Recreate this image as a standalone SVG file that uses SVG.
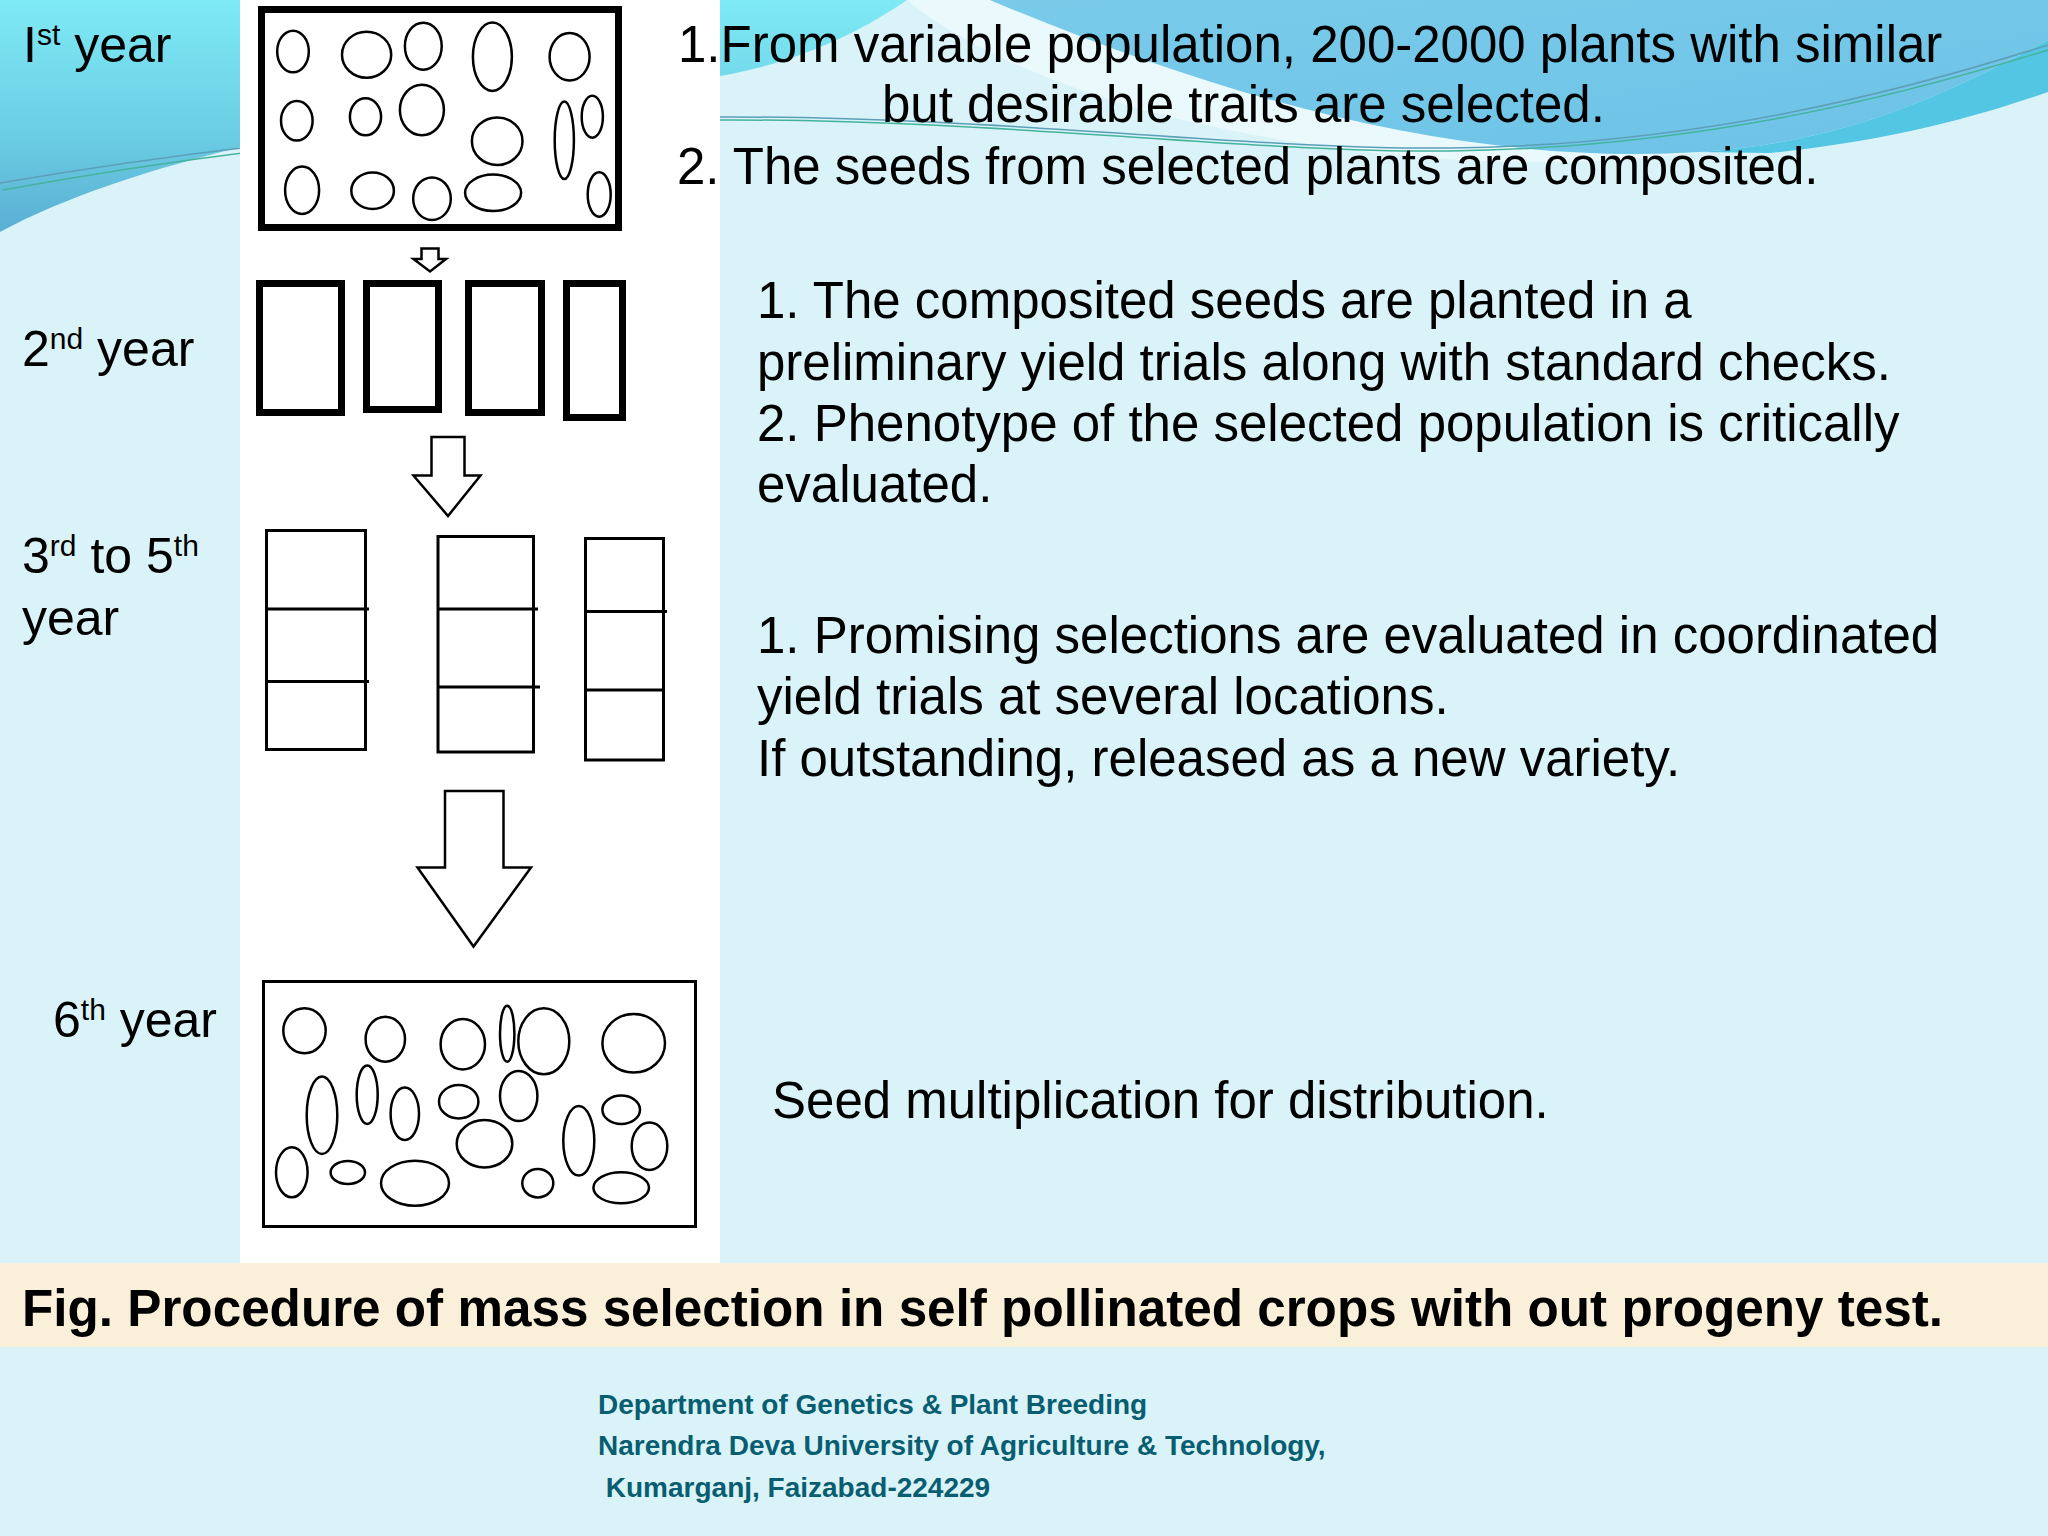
<svg xmlns="http://www.w3.org/2000/svg" width="2048" height="1536" viewBox="0 0 2048 1536">
<defs>
<linearGradient id="gCyan" x1="0" y1="0" x2="0" y2="1">
<stop offset="0" stop-color="#7EEAF5"/>
<stop offset="0.55" stop-color="#6CCFE5"/>
<stop offset="1" stop-color="#5AAFD3"/>
</linearGradient>
<linearGradient id="gBlue" x1="0" y1="0" x2="1" y2="1">
<stop offset="0" stop-color="#7ACBEA"/>
<stop offset="1" stop-color="#6CC2E6"/>
</linearGradient>
<style>
.t{font-family:"Liberation Sans",Arial,sans-serif;font-size:51px;fill:#000}
.lab{font-family:"Liberation Sans",Arial,sans-serif;font-size:50px;fill:#000}
.sup{font-size:30px}
.cap{font-family:"Liberation Sans",Arial,sans-serif;font-size:51px;font-weight:bold;fill:#000}
.foot{font-family:"Liberation Sans",Arial,sans-serif;font-size:28px;font-weight:bold;fill:#085E70}
.thick{fill:#fff;stroke:#000;stroke-width:7}
.thin{fill:#fff;stroke:#000;stroke-width:3}
.seed{fill:none;stroke:#000;stroke-width:2.5}
.div{stroke:#000;stroke-width:3}
.arrow{fill:#fff;stroke:#000;stroke-width:2.5;stroke-linejoin:miter}
</style>
</defs>

<g id="background">
<rect x="0" y="0" width="2048" height="1536" fill="#D9F3F9"/>
<path d="M0,232 C150,150 450,95 720,76 C800,62 860,32 907,0 H0 Z" fill="url(#gCyan)"/>
<path d="M907,0 H990 C1250,110 1480,165 1700,152 C1500,178 1300,150 1150,112 C1050,84 960,44 907,0 Z" fill="#EAF9FC"/>
<path d="M990,0 H2048 V40 C1950,92 1850,142 1700,152 C1480,165 1250,110 990,0 Z" fill="url(#gBlue)"/>
<path d="M2048,40 C1950,92 1850,142 1700,152 L1770,153 C1900,140 1990,112 2048,92 Z" fill="#52C6E2"/>
<path d="M0,183 C250,140 500,118 720,117 C1000,116 1250,150 1450,148 C1700,145 1900,92 2048,45" fill="none" stroke="#5C9FB8" stroke-width="1.5"/>
<path d="M3,190 C250,145 500,121 720,120 C1000,119 1250,153 1450,151 C1700,148 1900,96 2048,50" fill="none" stroke="#45B39C" stroke-width="1.5"/>
<rect x="240" y="0" width="480" height="1264" fill="#FFFFFF"/>
<rect x="0" y="1263" width="2048" height="84" fill="#FAF0DA"/>
</g>

<g id="labels">
<text id="label-year1" class="lab" x="23" y="62">I<tspan class="sup" dy="-17">st</tspan><tspan dy="17"> year</tspan></text>
<text id="label-year2" class="lab" x="22" y="366">2<tspan class="sup" dy="-17">nd</tspan><tspan dy="17"> year</tspan></text>
<text id="label-year3" class="lab" x="22" y="573">3<tspan class="sup" dy="-17">rd</tspan><tspan dy="17"> to 5</tspan><tspan class="sup" dy="-17">th</tspan></text>
<text id="label-year3b" class="lab" x="22" y="635">year</text>
<text id="label-year6" class="lab" x="53" y="1037">6<tspan class="sup" dy="-17">th</tspan><tspan dy="17"> year</tspan></text>
</g>

<g id="node-year1">
<rect class="thick" x="261.5" y="9.5" width="357" height="218"/>
<ellipse class="seed" cx="293" cy="51.5" rx="15.8" ry="20.8"/>
<ellipse class="seed" cx="366.6" cy="54.7" rx="24.6" ry="23"/>
<ellipse class="seed" cx="423.3" cy="46.2" rx="18.4" ry="23.5"/>
<ellipse class="seed" cx="492.4" cy="56.8" rx="19.5" ry="34.2"/>
<ellipse class="seed" cx="569.6" cy="56.7" rx="20" ry="23.7"/>
<ellipse class="seed" cx="296.8" cy="120.8" rx="15.8" ry="19.8"/>
<ellipse class="seed" cx="365.5" cy="116.8" rx="15.6" ry="18.5"/>
<ellipse class="seed" cx="421.9" cy="110" rx="22" ry="25.3"/>
<ellipse class="seed" cx="497.2" cy="141.2" rx="25.3" ry="23.8"/>
<ellipse class="seed" cx="564.3" cy="140.3" rx="9.6" ry="38.7"/>
<ellipse class="seed" cx="592.3" cy="116.7" rx="10.6" ry="21"/>
<ellipse class="seed" cx="302.1" cy="190.3" rx="17" ry="23.7"/>
<ellipse class="seed" cx="372.6" cy="190.7" rx="21.3" ry="18.3"/>
<ellipse class="seed" cx="432" cy="198.7" rx="18.8" ry="21.3"/>
<ellipse class="seed" cx="493.1" cy="192.8" rx="28" ry="18.2"/>
<ellipse class="seed" cx="599.2" cy="194.5" rx="11.5" ry="22.2"/>
</g>

<g id="node-year2">
<rect class="thick" x="259.5" y="283.5" width="82" height="129"/>
<rect class="thick" x="366.5" y="283.5" width="72" height="126"/>
<rect class="thick" x="468.5" y="283.5" width="73" height="129"/>
<rect class="thick" x="566.5" y="283.5" width="56" height="134"/>
</g>

<g id="node-year3to5">
<rect class="thin" x="266.5" y="530.5" width="99" height="219"/>
<line class="div" x1="266" y1="609" x2="369" y2="609"/>
<line class="div" x1="266" y1="681.5" x2="369" y2="681.5"/>
<rect class="thin" x="438" y="536.5" width="95.5" height="215.5"/>
<line class="div" x1="438" y1="609" x2="538" y2="609"/>
<line class="div" x1="438" y1="687" x2="540" y2="687"/>
<rect class="thin" x="585.5" y="538.5" width="78" height="221.5"/>
<line class="div" x1="585" y1="611.5" x2="667" y2="611.5"/>
<line class="div" x1="585" y1="690" x2="665" y2="690"/>
</g>

<g id="node-year6">
<rect class="thin" x="263.5" y="981.5" width="432" height="245" stroke-width="2.5"/>
<ellipse class="seed" cx="304.5" cy="1030.8" rx="21.2" ry="22.5"/>
<ellipse class="seed" cx="385.3" cy="1039.2" rx="19.7" ry="22.5"/>
<ellipse class="seed" cx="462.8" cy="1044.2" rx="22.2" ry="25.2"/>
<ellipse class="seed" cx="507.2" cy="1033.7" rx="7.2" ry="28"/>
<ellipse class="seed" cx="543.8" cy="1041.3" rx="25.5" ry="33"/>
<ellipse class="seed" cx="633.7" cy="1043.3" rx="31.3" ry="29.3"/>
<ellipse class="seed" cx="322" cy="1115.3" rx="15.3" ry="38.7"/>
<ellipse class="seed" cx="367.2" cy="1094.8" rx="10.5" ry="29.2"/>
<ellipse class="seed" cx="404.8" cy="1113.8" rx="14.2" ry="26.2"/>
<ellipse class="seed" cx="458.7" cy="1101.7" rx="19.7" ry="16.7"/>
<ellipse class="seed" cx="518.7" cy="1096" rx="18.7" ry="25"/>
<ellipse class="seed" cx="484.5" cy="1143.7" rx="27.8" ry="23.7"/>
<ellipse class="seed" cx="578.8" cy="1140.8" rx="15.5" ry="34.8"/>
<ellipse class="seed" cx="621.2" cy="1109.8" rx="18.8" ry="14.2"/>
<ellipse class="seed" cx="649.5" cy="1146.3" rx="17.8" ry="23.7"/>
<ellipse class="seed" cx="291.8" cy="1172.3" rx="15.8" ry="25"/>
<ellipse class="seed" cx="347.8" cy="1172.5" rx="17.2" ry="11.5"/>
<ellipse class="seed" cx="415" cy="1183.2" rx="34" ry="22.5"/>
<ellipse class="seed" cx="537.8" cy="1183.2" rx="15.5" ry="14.2"/>
<ellipse class="seed" cx="621.2" cy="1187.8" rx="27.8" ry="15.5"/>
</g>

<g id="connectors">
<path class="arrow" d="M421.5,248.5 H438.5 V259 H446 L430,271.5 L413.5,259 H421.5 Z"/>
<path class="arrow" d="M431.5,437 H464.5 V475.5 H480.5 L448,516 L413.5,475.5 H431.5 Z"/>
<path class="arrow" d="M445,791 H503.5 V867.5 H531 L473.5,946.5 L417.5,867.5 H445 Z"/>
</g>

<g id="text-year1">
<text class="t" x="678" y="62">1.From variable population, 200-2000 plants with similar</text>
<text class="t" x="882" y="122">but desirable traits are selected.</text>
<text class="t" x="677" y="184">2. The seeds from selected plants are composited.</text>
</g>

<g id="text-year2">
<text class="t" x="757" y="318">1. The composited seeds are planted in a</text>
<text class="t" x="757" y="380">preliminary yield trials along with standard checks.</text>
<text class="t" x="757" y="441">2. Phenotype of the selected population is critically</text>
<text class="t" x="757" y="502">evaluated.</text>
</g>

<g id="text-year3to5">
<text class="t" x="757" y="653">1. Promising selections are evaluated in coordinated</text>
<text class="t" x="757" y="714">yield trials at several locations.</text>
<text class="t" x="757" y="776">If outstanding, released as a new variety.</text>
</g>

<g id="text-year6">
<text class="t" x="772" y="1118">Seed multiplication for distribution.</text>
</g>

<g id="caption">
<text class="cap" x="22" y="1326" textLength="1921" lengthAdjust="spacingAndGlyphs">Fig. Procedure of mass selection in self pollinated crops with out progeny test.</text>
</g>

<g id="footer">
<text class="foot" x="598" y="1414">Department of Genetics &amp; Plant Breeding</text>
<text class="foot" x="598" y="1455">Narendra Deva University of Agriculture &amp; Technology,</text>
<text class="foot" x="598" y="1497" xml:space="preserve"> Kumarganj, Faizabad-224229</text>
</g>
</svg>
